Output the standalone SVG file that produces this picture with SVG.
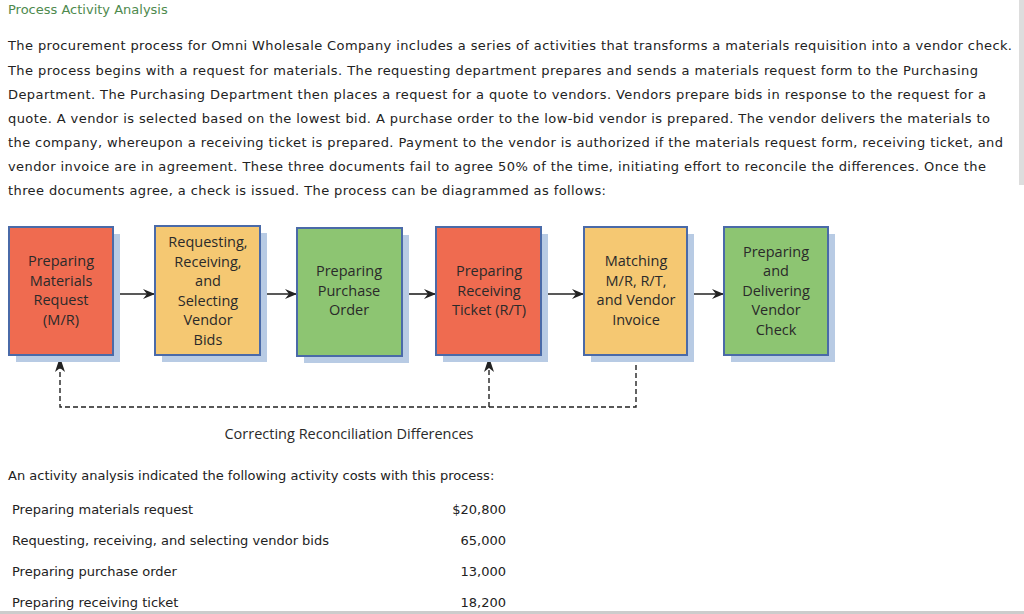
<svg xmlns="http://www.w3.org/2000/svg" width="1024" height="614" viewBox="0 0 1024 614">
<style>
.p{font-family:"DejaVu Sans",Verdana,sans-serif;font-size:13px;fill:#222}
.h{font-family:"DejaVu Sans",Verdana,sans-serif;font-size:13px;fill:#4e8a4e}
.n{font-family:"Open Sans","Noto Sans",sans-serif;font-size:14.5px;fill:#2a2a2a;text-anchor:middle}
.sh{fill:#b8cbe4}
.bx{stroke:#4a6aa8;stroke-width:2}
.r{fill:#ef6b50}.y{fill:#f5c872}.g{fill:#8dc572}
.c{stroke:#222;stroke-width:1.6;fill:none}
.d{stroke:#222;stroke-width:1.4;fill:none;stroke-dasharray:5,3}
</style>
<defs><marker id="a" markerWidth="12" markerHeight="10" refX="11" refY="5" orient="auto" markerUnits="userSpaceOnUse"><path d="M0,0 L12,5 L0,10 L4,5 Z" fill="#222"/></marker></defs>
<rect width="1024" height="614" fill="#fff"/>
<text class="h" x="8" y="14">Process Activity Analysis</text>
<g class="p">
<text x="8" y="50" textLength="1004">The procurement process for Omni Wholesale Company includes a series of activities that transforms a materials requisition into a vendor check.</text>
<text x="8" y="75" textLength="970">The process begins with a request for materials. The requesting department prepares and sends a materials request form to the Purchasing</text>
<text x="8" y="99" textLength="978">Department. The Purchasing Department then places a request for a quote to vendors. Vendors prepare bids in response to the request for a</text>
<text x="8" y="123" textLength="982">quote. A vendor is selected based on the lowest bid. A purchase order to the low-bid vendor is prepared. The vendor delivers the materials to</text>
<text x="8" y="147" textLength="995">the company, whereupon a receiving ticket is prepared. Payment to the vendor is authorized if the materials request form, receiving ticket, and</text>
<text x="8" y="171" textLength="978">vendor invoice are in agreement. These three documents fail to agree 50% of the time, initiating effort to reconcile the differences. Once the</text>
<text x="8" y="195" textLength="598">three documents agree, a check is issued. The process can be diagrammed as follows:</text>
</g>
<g id="connectors">
<path class="c" d="M114,294 H154" marker-end="url(#a)"/>
<path class="c" d="M261,294 H296" marker-end="url(#a)"/>
<path class="c" d="M403,294 H435" marker-end="url(#a)"/>
<path class="c" d="M542,294 H583" marker-end="url(#a)"/>
<path class="c" d="M688,294 H723" marker-end="url(#a)"/>
<path class="d" d="M636,357 V407 H60 V362"/>
<path class="d" d="M489,407 V362"/>
<path d="M60,357 L55,372 L60,368 L65,372 Z" fill="#222"/>
<path d="M489,357 L484,372 L489,368 L494,372 Z" fill="#222"/>
</g>
<g id="n1"><rect class="sh" x="16" y="234" width="104" height="128"/><rect class="bx r" x="9" y="227" width="104" height="128"/>
<text class="n" x="61"><tspan x="61" y="266">Preparing</tspan><tspan x="61" y="286">Materials</tspan><tspan x="61" y="305">Request</tspan><tspan x="61" y="325">(M/R)</tspan></text></g>
<g id="n2"><rect class="sh" x="162" y="233" width="105" height="129"/><rect class="bx y" x="155" y="226" width="105" height="129"/>
<text class="n"><tspan x="208" y="247">Requesting,</tspan><tspan x="208" y="267">Receiving,</tspan><tspan x="208" y="286">and</tspan><tspan x="208" y="306">Selecting</tspan><tspan x="208" y="325">Vendor</tspan><tspan x="208" y="345">Bids</tspan></text></g>
<g id="n3"><rect class="sh" x="304" y="235" width="105" height="128"/><rect class="bx g" x="297" y="228" width="105" height="128"/>
<text class="n"><tspan x="349" y="276">Preparing</tspan><tspan x="349" y="296">Purchase</tspan><tspan x="349" y="315">Order</tspan></text></g>
<g id="n4"><rect class="sh" x="443" y="234" width="105" height="128"/><rect class="bx r" x="436" y="227" width="105" height="128"/>
<text class="n"><tspan x="489" y="276">Preparing</tspan><tspan x="489" y="296">Receiving</tspan><tspan x="489" y="315">Ticket (R/T)</tspan></text></g>
<g id="n5"><rect class="sh" x="591" y="234" width="103" height="128"/><rect class="bx y" x="584" y="227" width="103" height="128"/>
<text class="n"><tspan x="636" y="266">Matching</tspan><tspan x="636" y="286">M/R, R/T,</tspan><tspan x="636" y="305">and Vendor</tspan><tspan x="636" y="325">Invoice</tspan></text></g>
<g id="n6"><rect class="sh" x="731" y="234" width="104" height="128"/><rect class="bx g" x="724" y="227" width="104" height="128"/>
<text class="n"><tspan x="776" y="257">Preparing</tspan><tspan x="776" y="276">and</tspan><tspan x="776" y="296">Delivering</tspan><tspan x="776" y="315">Vendor</tspan><tspan x="776" y="335">Check</tspan></text></g>
<text class="n" x="349" y="439">Correcting Reconciliation Differences</text>
<g class="p">
<text x="8" y="480">An activity analysis indicated the following activity costs with this process:</text>
<text x="12" y="514">Preparing materials request</text>
<text x="12" y="545">Requesting, receiving, and selecting vendor bids</text>
<text x="12" y="576">Preparing purchase order</text>
<text x="12" y="607">Preparing receiving ticket</text>
<g text-anchor="end"><text x="506" y="514">$20,800</text><text x="506" y="545">65,000</text><text x="506" y="576">13,000</text><text x="506" y="607">18,200</text></g>
</g>
<rect x="1019" y="0" width="5" height="185" fill="#ddd"/>
<rect x="0" y="611" width="1024" height="3" fill="#ccc"/>
</svg>
